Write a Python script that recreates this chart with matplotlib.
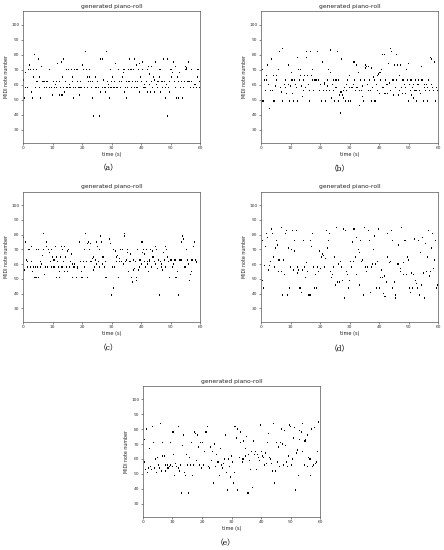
import matplotlib
matplotlib.use("Agg")
import matplotlib.pyplot as plt

# (time s, MIDI pitch) read off each generated piano-roll
notes_a = [
    (0.1, 63), (0.2, 51), (0.5, 68), (0.8, 58), (1.2, 58), (1.5, 70), (2.0, 73), (2.3, 70), (2.6, 55), (2.9, 51),
    (3.2, 70), (3.4, 65), (3.7, 80), (4.1, 58), (4.3, 62), (4.4, 70), (4.8, 62), (5.0, 77), (5.3, 65), (5.5, 58),
    (5.8, 51), (6.2, 72), (6.4, 62), (6.7, 62), (7.0, 58), (7.2, 62), (7.6, 62), (7.8, 58), (8.2, 62), (8.7, 70),
    (8.9, 58), (9.3, 58), (9.6, 58), (9.8, 53), (10.2, 62), (10.4, 58), (10.7, 60), (11.0, 62), (11.3, 58), (11.5, 74),
    (12.1, 62), (12.3, 53), (12.6, 58), (12.8, 75), (13.0, 53), (13.3, 65), (13.5, 77), (13.6, 58), (13.9, 55), (14.2, 62),
    (14.4, 70), (14.7, 58), (15.2, 70), (15.4, 58), (15.7, 60), (15.9, 58), (16.2, 70), (16.4, 65), (16.6, 62), (16.8, 51),
    (17.0, 58), (17.3, 70), (17.6, 58), (17.8, 70), (18.2, 70), (18.4, 62), (18.6, 58), (18.8, 53), (19.1, 58), (19.4, 62),
    (19.7, 58), (20.1, 73), (20.3, 70), (20.6, 58), (21.1, 82), (21.3, 70), (21.5, 65), (21.7, 58), (21.9, 62), (22.2, 70),
    (22.4, 65), (22.7, 62), (22.9, 58), (23.2, 51), (23.4, 62), (23.8, 39), (24.2, 58), (24.5, 65), (24.8, 58), (25.1, 62),
    (25.3, 58), (25.7, 39), (26.0, 77), (26.2, 55), (26.6, 77), (26.8, 58), (27.1, 63), (27.3, 58), (27.6, 58), (27.8, 55),
    (28.1, 82), (28.3, 62), (28.6, 58), (28.9, 60), (29.1, 51), (29.3, 70), (29.6, 58), (29.9, 62), (30.2, 65), (30.4, 58),
    (30.7, 58), (30.9, 62), (31.2, 74), (31.4, 58), (31.8, 58), (32.1, 70), (32.4, 62), (32.9, 58), (33.1, 62), (33.5, 65),
    (33.7, 68), (34.0, 70), (34.2, 55), (34.4, 58), (34.7, 51), (34.9, 62), (35.2, 58), (35.4, 70), (35.7, 62), (36.0, 77),
    (36.2, 70), (36.4, 58), (36.7, 70), (36.9, 62), (37.2, 70), (37.4, 58), (37.7, 77), (37.9, 62), (38.2, 73), (38.4, 58),
    (38.7, 62), (38.9, 70), (39.2, 74), (39.4, 55), (39.7, 65), (39.9, 62), (40.2, 75), (40.4, 70), (40.6, 58), (40.9, 58),
    (41.1, 60), (41.3, 58), (41.5, 62), (41.8, 70), (42.0, 55), (42.3, 72), (42.5, 67), (42.7, 60), (42.9, 55), (43.2, 72),
    (43.4, 62), (43.6, 58), (43.9, 65), (44.2, 63), (44.4, 55), (44.7, 75), (44.9, 60), (45.2, 58), (45.4, 62), (45.7, 62),
    (45.9, 65), (46.2, 70), (46.4, 55), (46.6, 62), (46.9, 62), (47.1, 58), (47.4, 77), (47.6, 62), (47.9, 58), (48.1, 51),
    (48.4, 60), (48.6, 77), (48.8, 39), (49.1, 58), (49.3, 62), (49.5, 55), (49.8, 70), (50.0, 65), (50.2, 70), (50.5, 68),
    (50.8, 75), (51.0, 62), (51.3, 72), (51.5, 58), (51.8, 51), (52.0, 65), (52.3, 51), (52.5, 62), (52.8, 68), (53.0, 58),
    (53.3, 58), (53.5, 62), (53.9, 51), (54.3, 58), (54.5, 62), (54.8, 72), (55.0, 70), (55.3, 71), (55.5, 62), (55.8, 75),
    (56.0, 62), (56.3, 62), (56.5, 58), (56.8, 70), (57.0, 62), (57.4, 58), (57.7, 58), (57.9, 60), (58.3, 60), (58.5, 58),
    (58.8, 70), (59.0, 65), (59.3, 70), (59.5, 62), (59.7, 58), (59.8, 70),
]

notes_b = [
    (0.2, 70), (0.4, 49), (0.7, 49), (1.1, 63), (1.3, 56), (1.6, 63), (1.8, 66), (2.1, 73), (2.4, 60), (2.7, 44),
    (3.1, 56), (3.3, 77), (3.6, 56), (4.0, 66), (4.2, 49), (4.6, 59), (5.0, 63), (5.2, 66), (5.6, 70), (6.1, 82),
    (6.3, 58), (6.6, 55), (7.0, 84), (7.2, 49), (7.6, 60), (8.0, 63), (8.2, 58), (8.6, 54), (9.0, 73), (9.2, 60),
    (9.5, 49), (9.7, 59), (10.1, 68), (10.3, 63), (10.6, 54), (10.8, 49), (11.2, 63), (11.5, 60), (11.8, 58), (12.1, 78),
    (12.3, 49), (12.6, 70), (12.8, 63), (13.1, 66), (13.3, 70), (13.6, 59), (13.8, 52), (14.1, 63), (14.3, 56), (14.6, 66),
    (14.8, 58), (15.1, 82), (15.3, 78), (15.6, 66), (15.8, 60), (16.1, 49), (16.3, 56), (16.6, 82), (16.8, 66), (17.1, 63),
    (17.3, 70), (17.6, 56), (18.0, 63), (18.2, 63), (18.6, 63), (19.0, 82), (19.2, 63), (19.5, 56), (19.8, 60), (20.1, 60),
    (20.4, 49), (20.7, 75), (20.9, 56), (21.2, 61), (21.4, 60), (21.7, 49), (21.9, 56), (22.2, 63), (22.4, 59), (22.7, 70),
    (22.9, 56), (23.2, 83), (23.5, 68), (23.7, 51), (23.9, 60), (24.2, 63), (24.4, 56), (24.7, 49), (24.9, 58), (25.2, 63),
    (25.4, 58), (25.7, 82), (25.9, 63), (26.2, 49), (26.4, 53), (26.7, 41), (26.9, 55), (27.2, 77), (27.4, 53), (27.7, 56),
    (27.9, 51), (28.2, 58), (28.4, 49), (28.7, 60), (28.9, 56), (29.2, 63), (29.4, 49), (29.7, 66), (29.9, 58), (30.2, 49),
    (30.4, 58), (30.8, 58), (31.1, 60), (31.3, 75), (31.6, 63), (31.8, 56), (32.1, 73), (32.3, 58), (32.6, 58), (32.8, 68),
    (33.1, 46), (33.3, 56), (33.6, 63), (33.8, 56), (34.1, 52), (34.3, 59), (34.6, 49), (34.8, 63), (35.1, 73), (35.3, 71),
    (35.6, 72), (35.8, 60), (36.1, 72), (36.3, 56), (36.6, 63), (36.8, 56), (37.1, 71), (37.3, 49), (37.6, 58), (37.8, 65),
    (38.1, 49), (38.3, 63), (38.6, 49), (38.8, 60), (39.1, 66), (39.3, 56), (39.6, 67), (39.8, 54), (40.1, 68), (40.3, 63),
    (40.6, 70), (40.8, 58), (41.1, 80), (41.3, 58), (41.6, 80), (41.8, 54), (42.1, 63), (42.3, 60), (42.6, 60), (42.8, 54),
    (43.1, 74), (43.3, 61), (43.6, 84), (43.8, 56), (44.1, 82), (44.3, 63), (44.6, 63), (44.8, 53), (45.1, 73), (45.3, 58),
    (45.6, 80), (45.8, 63), (46.1, 73), (46.3, 53), (46.6, 66), (46.8, 56), (47.1, 73), (47.3, 58), (47.6, 54), (47.8, 63),
    (48.1, 63), (48.3, 60), (48.6, 54), (48.8, 58), (49.1, 70), (49.3, 63), (49.6, 74), (49.8, 49), (50.1, 60), (50.3, 56),
    (50.6, 63), (50.8, 53), (51.1, 58), (51.3, 51), (51.6, 60), (51.8, 56), (52.1, 63), (52.3, 56), (52.6, 49), (52.8, 60),
    (53.1, 60), (53.3, 63), (53.6, 56), (53.8, 54), (54.1, 72), (54.3, 63), (54.6, 63), (54.8, 49), (55.1, 58), (55.3, 60),
    (55.6, 56), (55.8, 60), (56.1, 58), (56.3, 49), (56.6, 63), (56.8, 56), (57.1, 78), (57.4, 77), (57.7, 60), (58.0, 58),
    (58.3, 56), (58.6, 75), (58.8, 49), (59.1, 58), (59.5, 56), (59.8, 56),
]

notes_c = [
    (0.1, 78), (0.3, 56), (0.6, 75), (0.9, 63), (1.2, 62), (1.4, 58), (1.7, 70), (2.0, 70), (2.3, 58), (2.6, 72),
    (2.8, 62), (3.1, 55), (3.3, 58), (3.6, 51), (4.0, 58), (4.2, 51), (4.5, 70), (4.7, 58), (5.0, 51), (5.2, 70),
    (5.6, 58), (5.8, 62), (6.1, 60), (6.3, 66), (6.7, 81), (6.9, 70), (7.2, 53), (7.4, 58), (7.7, 75), (7.9, 72),
    (8.2, 58), (8.4, 70), (8.8, 68), (9.0, 62), (9.3, 70), (9.5, 58), (9.8, 65), (10.0, 58), (10.3, 63), (10.5, 58),
    (10.8, 72), (11.0, 51), (11.3, 65), (11.5, 62), (11.8, 58), (12.0, 55), (12.3, 51), (12.5, 65), (12.8, 72), (13.0, 58),
    (13.3, 70), (13.5, 62), (13.8, 72), (14.0, 55), (14.3, 65), (14.5, 58), (14.8, 69), (15.0, 55), (15.3, 70), (15.5, 58),
    (15.8, 62), (16.2, 67), (16.4, 60), (16.7, 51), (16.9, 58), (17.2, 60), (17.4, 58), (17.8, 51), (18.2, 57), (18.4, 58),
    (18.9, 75), (19.2, 62), (19.5, 51), (19.7, 55), (20.0, 51), (20.2, 62), (20.5, 70), (20.7, 58), (21.1, 81), (21.3, 62),
    (21.6, 51), (21.8, 74), (22.1, 75), (22.3, 70), (22.6, 74), (22.8, 62), (23.1, 62), (23.3, 64), (23.6, 65), (23.8, 56),
    (24.1, 58), (24.3, 63), (24.6, 75), (24.8, 60), (25.1, 72), (25.3, 62), (25.6, 58), (25.8, 70), (26.1, 79), (26.3, 75),
    (26.6, 65), (26.8, 60), (27.1, 65), (27.3, 58), (27.6, 51), (27.8, 62), (28.1, 51), (29.2, 77), (29.4, 74), (29.9, 39),
    (30.1, 58), (30.4, 70), (30.6, 44), (30.9, 58), (31.1, 69), (31.4, 65), (31.6, 62), (31.9, 66), (32.1, 51), (32.4, 62),
    (32.6, 64), (32.9, 70), (33.1, 62), (33.6, 70), (33.8, 60), (34.1, 81), (34.3, 79), (34.6, 62), (34.8, 63), (35.1, 70),
    (35.3, 68), (35.6, 55), (35.8, 62), (36.1, 67), (36.3, 62), (36.6, 51), (36.8, 48), (37.1, 56), (37.3, 63), (37.6, 57),
    (37.8, 62), (38.1, 51), (38.3, 49), (38.6, 70), (38.8, 56), (39.1, 63), (39.3, 58), (39.6, 63), (39.8, 60), (40.1, 75),
    (40.3, 68), (40.6, 70), (40.8, 62), (41.1, 67), (41.3, 58), (41.6, 70), (41.8, 62), (42.1, 60), (42.3, 55), (42.6, 62),
    (42.8, 63), (43.1, 70), (43.3, 58), (43.6, 69), (43.8, 65), (44.1, 65), (44.3, 62), (44.6, 72), (44.8, 60), (45.1, 70),
    (45.3, 57), (45.6, 63), (46.0, 39), (46.3, 62), (46.6, 58), (46.8, 60), (47.1, 56), (47.4, 68), (47.6, 63), (47.9, 58),
    (48.2, 72), (48.4, 70), (48.8, 65), (49.0, 62), (49.3, 51), (49.8, 63), (50.1, 63), (50.4, 58), (50.7, 60), (51.0, 63),
    (51.3, 63), (51.6, 51), (51.9, 51), (52.2, 55), (52.6, 39), (52.8, 63), (53.1, 63), (53.4, 75), (53.6, 63), (53.9, 79),
    (54.2, 77), (54.5, 58), (54.8, 58), (55.1, 70), (55.4, 63), (55.7, 60), (56.1, 49), (56.4, 53), (56.7, 55), (56.9, 63),
    (57.2, 63), (57.5, 72), (57.8, 75), (58.1, 63), (58.4, 61), (58.7, 62),
]

notes_d = [
    (0.2, 49), (0.3, 76), (0.6, 44), (1.0, 59), (1.3, 72), (1.7, 81), (2.0, 78), (2.3, 56), (2.7, 59), (3.0, 62),
    (3.3, 84), (3.6, 81), (4.0, 65), (4.3, 58), (4.7, 71), (5.0, 76), (5.3, 73), (5.6, 55), (5.9, 63), (6.2, 63),
    (6.6, 85), (6.9, 55), (7.2, 39), (7.5, 63), (7.9, 53), (8.2, 81), (8.5, 83), (8.8, 39), (9.2, 71), (9.4, 44),
    (9.8, 58), (10.1, 70), (10.4, 83), (10.7, 56), (11.0, 69), (11.3, 76), (11.7, 83), (12.0, 54), (12.3, 58), (12.6, 56),
    (13.0, 44), (13.3, 44), (13.6, 41), (14.0, 56), (14.3, 76), (14.6, 58), (15.0, 51), (15.3, 61), (15.7, 55), (16.0, 39),
    (16.4, 39), (16.7, 76), (17.0, 72), (17.3, 81), (17.7, 58), (18.0, 44), (18.3, 53), (18.7, 44), (19.0, 58), (19.4, 55),
    (19.7, 69), (20.0, 57), (20.3, 65), (20.7, 67), (21.0, 66), (21.3, 58), (21.7, 64), (22.0, 83), (22.3, 71), (22.7, 76),
    (23.0, 81), (23.3, 55), (23.7, 51), (24.0, 53), (24.4, 58), (24.7, 65), (25.0, 46), (25.4, 85), (25.7, 48), (26.0, 60),
    (26.3, 48), (26.7, 62), (27.0, 58), (27.3, 49), (27.7, 84), (28.0, 37), (28.3, 83), (28.7, 55), (29.0, 53), (29.3, 44),
    (29.7, 49), (30.0, 62), (30.3, 58), (30.7, 75), (31.0, 62), (31.3, 84), (31.7, 65), (32.0, 78), (32.3, 53), (32.7, 70),
    (33.0, 46), (33.3, 68), (33.6, 76), (34.0, 62), (34.3, 63), (34.6, 39), (34.9, 85), (35.2, 58), (35.5, 55), (35.9, 58),
    (36.2, 83), (36.5, 76), (36.9, 41), (37.2, 58), (37.5, 60), (37.9, 70), (38.2, 79), (38.5, 60), (38.9, 44), (39.2, 62),
    (39.5, 84), (39.9, 44), (40.2, 51), (40.5, 56), (40.9, 51), (41.2, 40), (41.5, 52), (41.8, 38), (42.2, 48), (42.5, 81),
    (42.8, 65), (43.2, 61), (43.5, 62), (43.9, 83), (44.2, 76), (44.5, 44), (44.9, 48), (45.2, 39), (45.5, 37), (45.9, 60),
    (46.2, 60), (46.5, 73), (46.9, 57), (47.2, 55), (47.5, 85), (47.9, 61), (48.2, 53), (48.5, 76), (48.9, 76), (49.2, 53),
    (49.5, 65), (49.9, 63), (50.2, 44), (50.5, 41), (50.9, 54), (51.2, 44), (51.5, 53), (51.9, 77), (52.2, 49), (52.5, 47),
    (52.9, 44), (53.2, 76), (53.5, 39), (53.9, 68), (54.2, 46), (54.5, 78), (54.9, 54), (55.2, 37), (55.5, 74), (55.9, 55),
    (56.2, 65), (56.5, 83), (56.9, 52), (57.2, 55), (57.5, 71), (57.9, 81), (58.2, 57), (58.5, 63), (58.9, 76), (59.2, 44),
    (59.5, 46), (59.8, 81),
]

notes_e = [
    (0.2, 73), (0.3, 58), (0.6, 53), (1.0, 80), (1.3, 51), (1.7, 54), (2.0, 67), (2.3, 55), (2.6, 53), (3.0, 82),
    (3.3, 71), (3.6, 54), (4.0, 60), (4.3, 51), (4.6, 61), (5.0, 56), (5.3, 54), (5.7, 84), (6.0, 52), (6.3, 62),
    (6.6, 71), (7.0, 62), (7.3, 56), (7.6, 52), (8.0, 56), (8.3, 54), (8.7, 55), (9.0, 56), (9.3, 71), (9.7, 55),
    (10.0, 78), (10.3, 63), (10.6, 49), (11.0, 57), (11.3, 55), (11.7, 82), (12.0, 54), (12.3, 52), (12.7, 56), (13.0, 37),
    (13.3, 69), (13.6, 76), (14.0, 51), (14.3, 49), (14.7, 63), (15.0, 56), (15.4, 37), (15.7, 61), (16.0, 56), (16.4, 71),
    (16.7, 49), (17.0, 56), (17.4, 78), (17.7, 77), (18.0, 59), (18.4, 76), (18.7, 68), (19.0, 56), (19.4, 71), (19.7, 54),
    (20.0, 71), (20.4, 56), (20.7, 65), (21.0, 78), (21.4, 78), (21.7, 82), (22.0, 55), (22.4, 54), (22.7, 68), (23.0, 59),
    (23.4, 65), (23.7, 44), (24.0, 70), (24.4, 55), (24.7, 63), (25.0, 58), (25.4, 58), (25.7, 49), (26.0, 67), (26.4, 56),
    (26.7, 54), (27.0, 57), (27.4, 60), (27.7, 76), (28.0, 51), (28.4, 39), (28.7, 60), (29.0, 55), (29.4, 48), (29.7, 62),
    (30.0, 58), (30.4, 44), (30.7, 51), (31.0, 82), (31.4, 74), (31.7, 39), (32.0, 80), (32.4, 61), (32.7, 71), (33.0, 78),
    (33.4, 58), (33.7, 60), (34.0, 72), (34.4, 67), (34.7, 62), (35.0, 75), (35.4, 37), (35.7, 63), (36.0, 59), (36.4, 53),
    (36.7, 65), (37.0, 41), (37.4, 72), (37.7, 63), (38.0, 65), (38.4, 53), (38.7, 63), (39.0, 61), (39.4, 59), (39.7, 83),
    (40.0, 65), (40.4, 62), (40.7, 61), (41.0, 56), (41.4, 64), (41.7, 57), (42.0, 71), (42.4, 77), (42.7, 61), (43.0, 60),
    (43.4, 57), (43.7, 52), (44.0, 84), (44.4, 44), (44.7, 52), (45.0, 71), (45.4, 58), (45.7, 68), (46.0, 55), (46.4, 71),
    (46.7, 80), (47.0, 70), (47.4, 56), (47.7, 79), (48.0, 69), (48.4, 58), (48.7, 55), (49.0, 62), (49.4, 83), (49.7, 82),
    (50.0, 56), (50.4, 60), (50.7, 74), (51.0, 81), (51.4, 39), (51.7, 64), (52.0, 66), (52.4, 49), (52.7, 73), (53.0, 79),
    (53.4, 78), (53.7, 65), (54.0, 84), (54.4, 56), (54.7, 72), (55.0, 73), (55.4, 55), (55.7, 76), (56.0, 61), (56.4, 60),
    (56.7, 49), (57.0, 80), (57.4, 55), (57.7, 56), (58.0, 81), (58.4, 57), (58.7, 58), (59.0, 65), (59.4, 85),
]

panels = [notes_a, notes_b, notes_c, notes_d, notes_e]
tags = ["（a）", "（b）", "（c）", "（d）", "（e）"]

# axes rectangles (fig fraction) and caption anchors
boxes = [[0.052, 0.740, 0.399, 0.240], [0.588, 0.740, 0.399, 0.240],
         [0.052, 0.415, 0.399, 0.236], [0.588, 0.415, 0.399, 0.236],
         [0.322, 0.060, 0.399, 0.238]]
caps = [(0.245, 0.694), (0.766, 0.692), (0.245, 0.367), (0.766, 0.365), (0.509, 0.013)]

fig = plt.figure(figsize=(4.44, 5.5), dpi=100)
for notes, tag, box, cap in zip(panels, tags, boxes, caps):
    ax = fig.add_axes(box)
    t = [n[0] for n in notes]
    p = [n[1] for n in notes]
    ax.bar(t, 1.0, width=0.35, bottom=[v - 0.5 for v in p], align="edge", color="black", linewidth=0)
    ax.set_xlim(0, 60)
    ax.set_ylim(21, 109)
    ax.set_xticks([0, 10, 20, 30, 40, 50, 60])
    ax.set_yticks([30, 40, 50, 60, 70, 80, 90, 100])
    ax.tick_params(labelsize=3.2, length=1.5, width=0.4, pad=1, colors="#333333")
    for s in ax.spines.values():
        s.set_linewidth(0.5)
        s.set_color("#555555")
    ax.set_title("generated piano-roll", fontsize=4.3, pad=2.5, color="#222222")
    ax.set_xlabel("time (s)", fontsize=3.6, labelpad=1, color="#222222")
    ax.set_ylabel("MIDI note number", fontsize=3.4, labelpad=1.5, color="#222222")
    fig.text(cap[0], cap[1], tag, fontsize=5.5, ha="center", va="center",
             family=["DejaVu Serif", "Noto Sans CJK SC"])

fig.savefig("out.png", dpi=100)
